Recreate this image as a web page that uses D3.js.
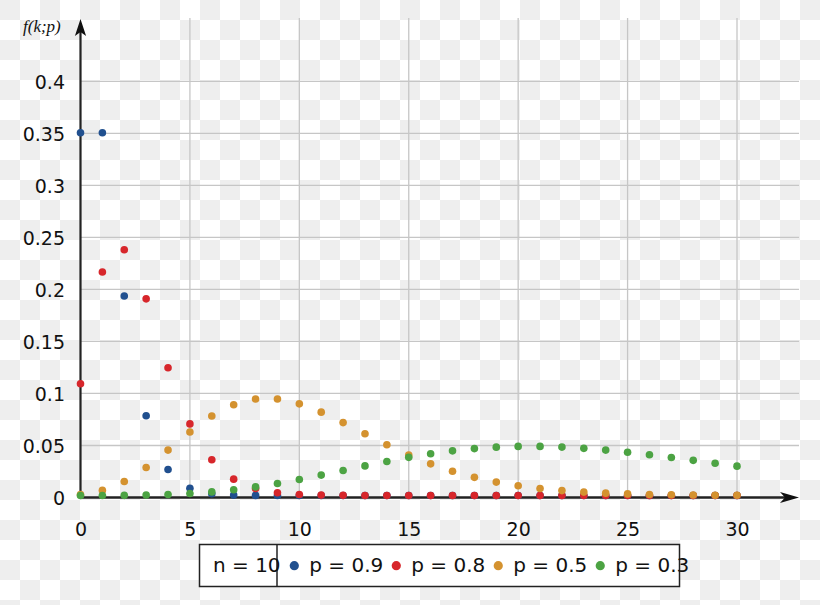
<!DOCTYPE html>
<html>
<head>
<meta charset="utf-8">
<script src="https://cdn.jsdelivr.net/npm/d3@7"></script>
<style>
  html, body { margin: 0; padding: 0; background: #fff; }
  svg { display: block; }
</style>
</head>
<body>
<svg id="chart" width="820" height="605"></svg>
<script>
// ---- data ----
const ks = d3.range(0, 31);
const xTicks = [0, 5, 10, 15, 20, 25, 30];
const yTicks = [0, 0.05, 0.1, 0.15, 0.2, 0.25, 0.3, 0.35, 0.4];
const yTickLabels = ["0", "0.05", "0.1", "0.15", "0.2", "0.25", "0.3", "0.35", "0.4"];
const seriesNames = ["p = 0.9", "p = 0.8", "p = 0.5", "p = 0.3"];
const seriesColors = ["#21508f", "#d7262b", "#d4922f", "#4ca343"];
const p09 = [0.34868, 0.34868, 0.19177, 0.07671, 0.02493, 0.00698, 0.00175, 0.00040, 0.00008, 0.00002,
             0, 0, 0, 0, 0, 0, 0, 0, 0, 0, 0, 0, 0, 0, 0, 0, 0, 0, 0, 0, 0];
const p08 = [0.10737, 0.21475, 0.23622, 0.18898, 0.12284, 0.06879, 0.03439, 0.01572, 0.00668, 0.00267,
             0.00102, 0.00037, 0.00013, 0.00004, 0.00001, 0, 0, 0, 0, 0, 0, 0, 0, 0, 0, 0, 0, 0, 0, 0, 0];
const p05 = [0.00098, 0.00488, 0.01343, 0.02686, 0.04364, 0.06110, 0.07637, 0.08728, 0.09274, 0.09274,
             0.08810, 0.08009, 0.07008, 0.05930, 0.04871, 0.03897, 0.03044, 0.02328, 0.01746, 0.01287,
             0.00933, 0.00666, 0.00469, 0.00327, 0.00224, 0.00153, 0.00103, 0.00068, 0.00045, 0.00030, 0.00019];
const p03 = [0.00001, 0.00004, 0.00016, 0.00045, 0.00101, 0.00199, 0.00348, 0.00556, 0.00828, 0.01159,
             0.01541, 0.01961, 0.02402, 0.02846, 0.03273, 0.03665, 0.04009, 0.04292, 0.04507, 0.04649,
             0.04719, 0.04719, 0.04654, 0.04533, 0.04363, 0.04154, 0.03914, 0.03653, 0.03379, 0.03099, 0.02820];
const series = [p09, p08, p05, p03];
const legendTitle = "n = 10";
const yTitle = "f(k;p)";

// ---- drawing ----
const svg = d3.select("#chart");
const font = "'DejaVu Sans', Verdana, sans-serif";

// checkerboard (transparency) background
const defs = svg.append("defs");
const pat = defs.append("pattern").attr("id", "checker")
  .attr("width", 40).attr("height", 40).attr("patternUnits", "userSpaceOnUse");
pat.append("rect").attr("width", 40).attr("height", 40).attr("fill", "#ffffff");
pat.append("rect").attr("x", 0).attr("y", 0).attr("width", 20).attr("height", 20).attr("fill", "#eeeeee");
pat.append("rect").attr("x", 20).attr("y", 20).attr("width", 20).attr("height", 20).attr("fill", "#eeeeee");
svg.append("rect").attr("width", 820).attr("height", 605).attr("fill", "url(#checker)");

const x = d3.scaleLinear().domain([0, 30]).range([80.5, 737]);
const y = d3.scaleLinear().domain([0, 0.4]).range([497.5, 81.3]);
const xEnd = 799, yTop = 19;

// grid
const grid = svg.append("g").attr("stroke", "#c6c6c6").attr("stroke-width", 1.3);
grid.selectAll("line.h").data(yTicks.filter(d => d > 0)).join("line")
  .attr("x1", x(0)).attr("x2", xEnd).attr("y1", d => y(d)).attr("y2", d => y(d));
grid.selectAll("line.v").data(xTicks.filter(d => d > 0)).join("line")
  .attr("x1", d => x(d)).attr("x2", d => x(d)).attr("y1", 18).attr("y2", y(0));

// axes with d3 axis generators (labels), custom lines with arrows
const xAxis = d3.axisBottom(x).tickValues(xTicks).tickSize(0).tickPadding(0).tickFormat(d3.format("d"));
const gx = svg.append("g").attr("transform", `translate(0,${y(0)})`).call(xAxis);
gx.select(".domain").remove();
gx.selectAll("text").attr("font-family", font).attr("font-size", 19).attr("fill", "#111")
  .attr("dy", null).attr("y", 38);

const yAxis = d3.axisLeft(y).tickValues(yTicks).tickSize(0).tickPadding(0)
  .tickFormat((d, i) => yTickLabels[i]);
const gy = svg.append("g").attr("transform", `translate(65,0)`).call(yAxis);
gy.select(".domain").remove();
gy.selectAll("text").attr("font-family", font).attr("font-size", 19).attr("fill", "#111")
  .attr("x", 0).attr("dy", "0.36em");

// axis lines
const axisG = svg.append("g");
axisG.append("line").attr("x1", x(0)).attr("x2", xEnd - 8).attr("y1", y(0)).attr("y2", y(0))
  .attr("stroke", "#222").attr("stroke-width", 2.4);
axisG.append("line").attr("x1", x(0)).attr("x2", x(0)).attr("y1", y(0) + 1.2).attr("y2", yTop + 8)
  .attr("stroke", "#222").attr("stroke-width", 2.2);
// arrowheads
axisG.append("path").attr("fill", "#111")
  .attr("d", `M${xEnd},${y(0)} L${xEnd - 19},${y(0) - 5.6} L${xEnd - 14},${y(0)} L${xEnd - 19},${y(0) + 5.6} Z`);
axisG.append("path").attr("fill", "#111")
  .attr("d", `M${x(0)},${yTop} L${x(0) - 5.6},${yTop + 17} L${x(0)},${yTop + 13} L${x(0) + 5.6},${yTop + 17} Z`);

// y title
svg.append("text").attr("x", 23).attr("y", 32)
  .attr("font-family", "'Liberation Serif', 'DejaVu Serif', serif").attr("font-style", "italic")
  .attr("font-size", 17).attr("fill", "#111").text(yTitle);

// dots
const dots = svg.append("g").attr("transform", "translate(0,-2)");
series.forEach((vals, si) => {
  dots.append("g").attr("fill", seriesColors[si])
    .selectAll("circle").data(ks).join("circle")
    .attr("cx", k => x(k)).attr("cy", k => y(vals[k])).attr("r", 3.8);
});

// legend
const lg = svg.append("g");
lg.append("rect").attr("x", 199.5).attr("y", 544.5).attr("width", 480).attr("height", 42)
  .attr("fill", "#fff").attr("stroke", "#222").attr("stroke-width", 1.5);
lg.append("line").attr("x1", 277).attr("x2", 277).attr("y1", 544.5).attr("y2", 586.5)
  .attr("stroke", "#222").attr("stroke-width", 1.5);
lg.append("text").attr("x", 213).attr("y", 572).attr("font-family", font).attr("font-size", 20)
  .attr("fill", "#111").text(legendTitle);
let lx = 294.3;
seriesNames.forEach((name, i) => {
  lg.append("circle").attr("cx", lx).attr("cy", 565.7).attr("r", 4.6).attr("fill", seriesColors[i]);
  const t = lg.append("text").attr("x", lx + 15).attr("y", 572).attr("font-family", font)
    .attr("font-size", 20).attr("fill", "#111").text(name);
  lx = lx + 15 + t.node().getComputedTextLength() + 13;
});
</script>
</body>
</html>
